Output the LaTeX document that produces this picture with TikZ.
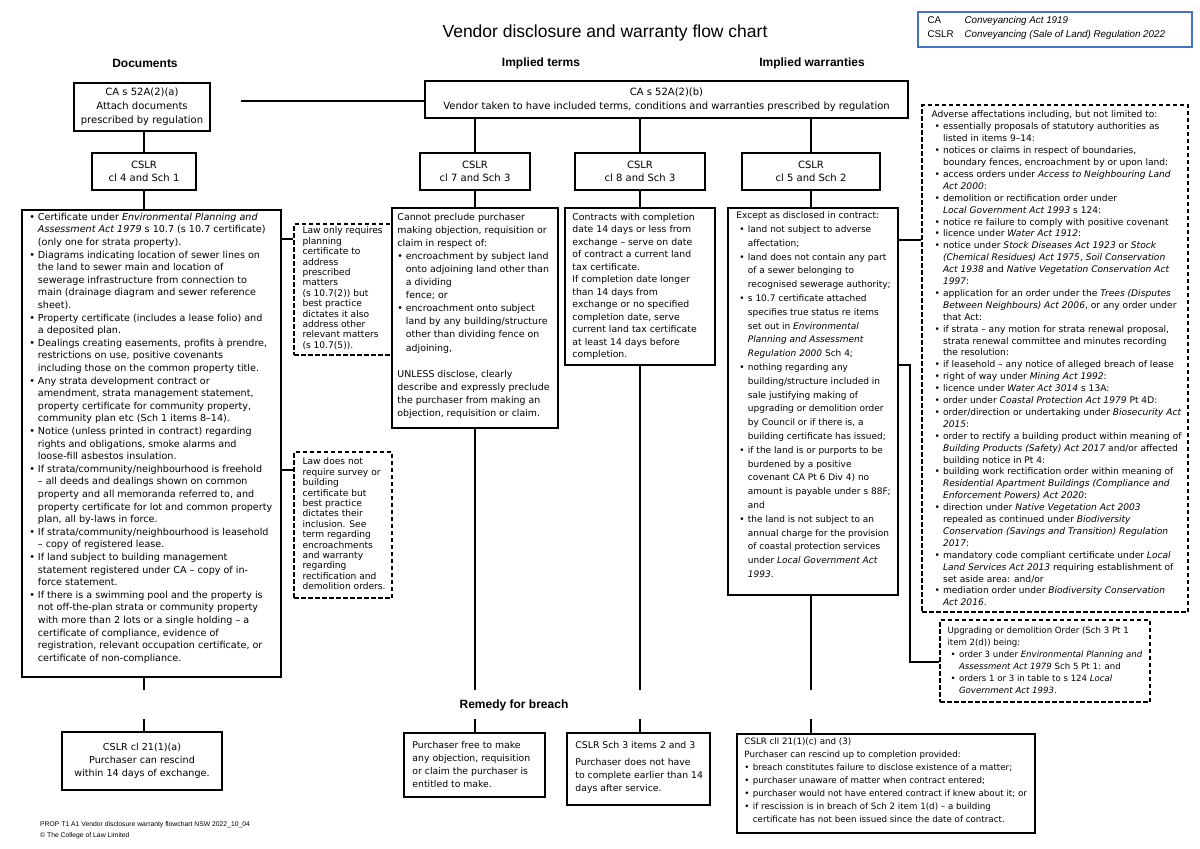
\documentclass[tikz,border=0pt]{standalone}
\usepackage{fontspec}
\setmainfont{DejaVu Sans}
\newfontfamily\arial{Liberation Sans}
\usepackage{tikz}
\usetikzlibrary{positioning}
\definecolor{legendblue}{RGB}{68,114,196}
\newcommand{\blt}{\makebox[8.5pt][l]{\textbullet}}
\newcommand{\bind}{\makebox[8.5pt]{}}
\newcommand{\bpad}{\makebox[3pt]{}}

\begin{document}
\begin{tikzpicture}[x=1pt, y=-1pt,
    box/.style={rectangle, draw, line width=1.5pt, inner sep=0pt, align=center},
    dbox/.style={rectangle, draw, line width=1.4pt, dash pattern=on 4.5pt off 2.5pt, inner sep=0pt},
    txt/.style={anchor=north west, align=left, inner sep=0pt},
    link/.style={line width=1.5pt},
    head/.style={font=\arial\bfseries\fontsize{12}{14}\selectfont}]
    \useasboundingbox (0,0) rectangle (1200,849);
    \fill[white] (0,0) rectangle (1200,849);

    \node (title) [font=\arial\fontsize{17.5}{20}\selectfont] at (605,33) {Vendor disclosure and warranty flow chart};
    \node (legend) [rectangle, draw=legendblue, line width=1.3pt, minimum width=274pt, minimum height=35pt] at (1055,29.5) {};
    \node (legendtxt) [txt, font=\arial\fontsize{9.8}{14}\selectfont, below right=5pt and 10pt of legend.north west]
        {\makebox[37pt][l]{CA}\textit{Conveyancing Act 1919}\\
         \makebox[37pt][l]{CSLR}\textit{Conveyancing (Sale of Land) Regulation 2022}};

    \node (hdocs) [head] at (145,63) {Documents};
    \node (hterms) [head] at (541,63) {Implied terms};
    \node (hwarr) [head] at (812,63) {Implied warranties};
    \node (hremedy) [head] at (514,705) {Remedy for breach};

    % top row
    \node (attach) [box, minimum width=136pt, minimum height=48pt, font=\fontsize{10}{14}\selectfont] at (142,107)
        {CA s 52A(2)(a)\\Attach documents\\prescribed by regulation};
    \node (implied) [box, minimum width=483pt, minimum height=37pt, font=\fontsize{10}{14}\selectfont] at (666.5,99.5)
        {CA s 52A(2)(b)\\Vendor taken to have included terms, conditions and warranties prescribed by regulation};
    \node (cl4) [box, minimum width=104pt, minimum height=37pt, font=\fontsize{10}{13.5}\selectfont] at (144,171.5) {CSLR\\cl 4 and Sch 1};
    \node (cl7) [box, minimum width=110pt, minimum height=37pt, font=\fontsize{10}{13.5}\selectfont] at (475,171.5) {CSLR\\cl 7 and Sch 3};
    \node (cl8) [box, minimum width=130pt, minimum height=37pt, font=\fontsize{10}{13.5}\selectfont] at (640,171.5) {CSLR\\cl 8 and Sch 3};
    \node (cl5) [box, minimum width=138pt, minimum height=37pt, font=\fontsize{10}{13.5}\selectfont] at (811,171.5) {CSLR\\cl 5 and Sch 2};

    % documents
    \node (doclist) [box, minimum width=259pt, minimum height=467pt] at (151.5,443.5) {};
    \node (doclisttxt) [txt, font=\fontsize{9.6}{12.6}\selectfont, below right=3.5pt and 8pt of doclist.north west]
        {\blt Certificate under \textit{Environmental Planning and}\\
         \bind \textit{Assessment Act 1979} s 10.7 (s 10.7 certificate)\\
         \bind (only one for strata property).\\
         \blt Diagrams indicating location of sewer lines on\\
         \bind the land to sewer main and location of\\
         \bind sewerage infrastructure from connection to\\
         \bind main (drainage diagram and sewer reference\\
         \bind sheet).\\
         \blt Property certificate (includes a lease folio) and\\
         \bind a deposited plan.\\
         \blt Dealings creating easements, profits à prendre,\\
         \bind restrictions on use, positive covenants\\
         \bind including those on the common property title.\\
         \blt Any strata development contract or\\
         \bind amendment, strata management statement,\\
         \bind property certificate for community property,\\
         \bind community plan etc (Sch 1 items 8–14).\\
         \blt Notice (unless printed in contract) regarding\\
         \bind rights and obligations, smoke alarms and\\
         \bind loose-fill asbestos insulation.\\
         \blt If strata/community/neighbourhood is freehold\\
         \bind – all deeds and dealings shown on common\\
         \bind property and all memoranda referred to, and\\
         \bind property certificate for lot and common property\\
         \bind plan, all by-laws in force.\\
         \blt If strata/community/neighbourhood is leasehold\\
         \bind – copy of registered lease.\\
         \blt If land subject to building management\\
         \bind statement registered under CA – copy of in-\\
         \bind force statement.\\
         \blt If there is a swimming pool and the property is\\
         \bind not off-the-plan strata or community property\\
         \bind with more than 2 lots or a single holding – a\\
         \bind certificate of compliance, evidence of\\
         \bind registration, relevant occupation certificate, or\\
         \bind certificate of non-compliance.};

    \node (law1) [dbox, minimum width=98pt, minimum height=131pt] at (343,289.5) {};
    \node (law1txt) [txt, font=\fontsize{9.1}{10.4}\selectfont, below right=3.5pt and 9pt of law1.north west]
        {Law only requires\\planning\\certificate to\\address\\prescribed\\matters\\(s 10.7(2)) but\\best practice\\dictates it also\\address other\\relevant matters\\(s 10.7(5)).};
    \node (law2) [dbox, minimum width=98pt, minimum height=146pt] at (343,525) {};
    \node (law2txt) [txt, font=\fontsize{9.1}{10.4}\selectfont, below right=6.5pt and 9pt of law2.north west]
        {Law does not\\require survey or\\building\\certificate but\\best practice\\dictates their\\inclusion. See\\term regarding\\encroachments\\and warranty\\regarding\\rectification and\\demolition orders.};

    % implied terms
    \node (precl) [box, minimum width=166pt, minimum height=220pt] at (475,318) {};
    \node (precltxt) [txt, font=\fontsize{9.4}{13.1}\selectfont, below right=5.5pt and 6pt of precl.north west]
        {Cannot preclude purchaser\\
         making objection, requisition or\\
         claim in respect of:\\
         \blt encroachment by subject land\\
         \bind onto adjoining land other than\\
         \bind a dividing\\
         \bind fence; or\\
         \blt encroachment onto subject\\
         \bind land by any building/structure\\
         \bind other than dividing fence on\\
         \bind adjoining,\\[13pt]
         UNLESS disclose, clearly\\
         describe and expressly preclude\\
         the purchaser from making an\\
         objection, requisition or claim.};
    \node (landtax) [box, minimum width=150pt, minimum height=157pt] at (640,286.5) {};
    \node (landtaxtxt) [txt, font=\fontsize{9.3}{12.5}\selectfont, below right=5.5pt and 8pt of landtax.north west]
        {Contracts with completion\\
         date 14 days or less from\\
         exchange – serve on date\\
         of contract a current land\\
         tax certificate.\\
         If completion date longer\\
         than 14 days from\\
         exchange or no specified\\
         completion date, serve\\
         current land tax certificate\\
         at least 14 days before\\
         completion.};

    % implied warranties
    \node (except) [box, minimum width=170pt, minimum height=387pt] at (813,401.5) {};
    \node (excepttxt) [txt, font=\fontsize{9}{13.8}\selectfont, below right=4.5pt and 9pt of except.north west]
        {Except as disclosed in contract:\\
         \bpad\blt land not subject to adverse\\
         \bpad\bind affectation;\\
         \bpad\blt land does not contain any part\\
         \bpad\bind of a sewer belonging to\\
         \bpad\bind recognised sewerage authority;\\
         \bpad\blt s 10.7 certificate attached\\
         \bpad\bind specifies true status re items\\
         \bpad\bind set out in \textit{Environmental}\\
         \bpad\bind \textit{Planning and Assessment}\\
         \bpad\bind \textit{Regulation 2000} Sch 4;\\
         \bpad\blt nothing regarding any\\
         \bpad\bind building/structure included in\\
         \bpad\bind sale justifying making of\\
         \bpad\bind upgrading or demolition order\\
         \bpad\bind by Council or if there is, a\\
         \bpad\bind building certificate has issued;\\
         \bpad\blt if the land is or purports to be\\
         \bpad\bind burdened by a positive\\
         \bpad\bind covenant CA Pt 6 Div 4) no\\
         \bpad\bind amount is payable under s 88F;\\
         \bpad\bind and\\
         \bpad\blt the land is not subject to an\\
         \bpad\bind annual charge for the provision\\
         \bpad\bind of coastal protection services\\
         \bpad\bind under \textit{Local Government Act}\\
         \bpad\bind \textit{1993}.};

    \node (adverse) [dbox, minimum width=266pt, minimum height=507pt] at (1055,358.5) {};
    \node (adversetxt) [txt, font=\fontsize{9.1}{11.9}\selectfont, below right=6.5pt and 10pt of adverse.north west]
        {Adverse affectations including, but not limited to:\\
         \bpad\blt essentially proposals of statutory authorities as\\
         \bpad\bind listed in items 9–14:\\
         \bpad\blt notices or claims in respect of boundaries,\\
         \bpad\bind boundary fences, encroachment by or upon land:\\
         \bpad\blt access orders under \textit{Access to Neighbouring Land}\\
         \bpad\bind \textit{Act 2000}:\\
         \bpad\blt demolition or rectification order under\\
         \bpad\bind \textit{Local Government Act 1993} s 124:\\
         \bpad\blt notice re failure to comply with positive covenant\\
         \bpad\blt licence under \textit{Water Act 1912}:\\
         \bpad\blt notice under \textit{Stock Diseases Act 1923} or \textit{Stock}\\
         \bpad\bind \textit{(Chemical Residues) Act 1975}, \textit{Soil Conservation}\\
         \bpad\bind \textit{Act 1938} and \textit{Native Vegetation Conservation Act}\\
         \bpad\bind \textit{1997}:\\
         \bpad\blt application for an order under the \textit{Trees (Disputes}\\
         \bpad\bind \textit{Between Neighbours) Act 2006}, or any order under\\
         \bpad\bind that Act:\\
         \bpad\blt if strata – any motion for strata renewal proposal,\\
         \bpad\bind strata renewal committee and minutes recording\\
         \bpad\bind the resolution:\\
         \bpad\blt if leasehold – any notice of alleged breach of lease\\
         \bpad\blt right of way under \textit{Mining Act 1992}:\\
         \bpad\blt licence under \textit{Water Act 3014} s 13A:\\
         \bpad\blt order under \textit{Coastal Protection Act 1979} Pt 4D:\\
         \bpad\blt order/direction or undertaking under \textit{Biosecurity Act}\\
         \bpad\bind \textit{2015}:\\
         \bpad\blt order to rectify a building product within meaning of\\
         \bpad\bind \textit{Building Products (Safety) Act 2017} and/or affected\\
         \bpad\bind building notice in Pt 4:\\
         \bpad\blt building work rectification order within meaning of\\
         \bpad\bind \textit{Residential Apartment Buildings (Compliance and}\\
         \bpad\bind \textit{Enforcement Powers) Act 2020}:\\
         \bpad\blt direction under \textit{Native Vegetation Act 2003}\\
         \bpad\bind repealed as continued under \textit{Biodiversity}\\
         \bpad\bind \textit{Conservation (Savings and Transition) Regulation}\\
         \bpad\bind \textit{2017}:\\
         \bpad\blt mandatory code compliant certificate under \textit{Local}\\
         \bpad\bind \textit{Land Services Act 2013} requiring establishment of\\
         \bpad\bind set aside area: and/or\\
         \bpad\blt mediation order under \textit{Biodiversity Conservation}\\
         \bpad\bind \textit{Act 2016}.};
    \node (upgrade) [dbox, minimum width=210pt, minimum height=82pt] at (1045,661) {};
    \node (upgradetxt) [txt, font=\fontsize{8.6}{11.9}\selectfont, below right=7.5pt and 8pt of upgrade.north west]
        {Upgrading or demolition Order (Sch 3 Pt 1\\
         item 2(d)) being:\\
         \bpad\blt order 3 under \textit{Environmental Planning and}\\
         \bpad\bind \textit{Assessment Act 1979} Sch 5 Pt 1: and\\
         \bpad\blt orders 1 or 3 in table to s 124 \textit{Local}\\
         \bpad\bind \textit{Government Act 1993}.};

    % remedy for breach
    \node (rescind) [box, minimum width=160pt, minimum height=58pt, font=\fontsize{9.6}{13}\selectfont] at (142,761)
        {CSLR cl 21(1)(a)\\Purchaser can rescind\\within 14 days of exchange.};
    \node (free) [box, minimum width=141pt, minimum height=64pt] at (474.5,765) {};
    \node (freetxt) [txt, font=\fontsize{9.3}{13}\selectfont, below right=8.5pt and 9pt of free.north west]
        {Purchaser free to make\\any objection, requisition\\or claim the purchaser is\\entitled to make.};
    \node (sch3) [box, minimum width=143pt, minimum height=72pt] at (638.5,769) {};
    \node (sch3txt) [txt, font=\fontsize{9.3}{13}\selectfont, below right=8.5pt and 9pt of sch3.north west]
        {CSLR Sch 3 items 2 and 3\\[4pt]Purchaser does not have\\to complete earlier than 14\\days after service.};
    \node (cll21) [box, minimum width=298pt, minimum height=99pt] at (886,783.5) {};
    \node (cll21txt) [txt, font=\fontsize{8.7}{13}\selectfont, below right=4pt and 8pt of cll21.north west]
        {CSLR cll 21(1)(c) and (3)\\
         Purchaser can rescind up to completion provided:\\
         \blt breach constitutes failure to disclose existence of a matter;\\
         \blt purchaser unaware of matter when contract entered;\\
         \blt purchaser would not have entered contract if knew about it; or\\
         \blt if rescission is in breach of Sch 2 item 1(d) – a building\\
         \bind certificate has not been issued since the date of contract.};

    \node (footer) [txt, font=\arial\fontsize{6.8}{11}\selectfont] at (40,821)
        {PROP T1 A1 Vendor disclosure warranty flowchart NSW 2022\_10\_04\\© The College of Law Limited};

    % connectors
    \coordinate (linkstart) at (241,101);
    \coordinate (gaptop) at (0,690);
    \coordinate (gapbot) at (0,719);
    \draw [link] (linkstart) -- (implied.west |- linkstart);
    \draw [link] (cl4.north |- attach.south) -- (cl4.north);
    \foreach \n in {cl7,cl8,cl5}
        \draw [link] (\n.north |- implied.south) -- (\n.north);
    \draw [link] (cl4.south) -- (cl4.south |- doclist.north);
    \draw [link] (cl7.south) -- (cl7.south |- precl.north);
    \draw [link] (cl8.south) -- (cl8.south |- landtax.north);
    \draw [link] (cl5.south) -- (cl5.south |- except.north);
    \draw [link] (doclist.east |- 0,239) -- (law1.west |- 0,239);
    \draw [link] (doclist.east |- 0,470) -- (law2.west |- 0,470);
    \draw [link] (except.east |- 0,240) -- (adverse.west |- 0,240);
    \draw [link] (except.east |- 0,365) -- (910,365) |- (upgrade.west |- 0,662);
    \foreach \c/\a/\b in {cl4/doclist/rescind, cl7/precl/free, cl8/landtax/sch3, cl5/except/cll21} {
        \draw [link] (\c.south |- \a.south) -- (\c.south |- gaptop);
        \draw [link] (\c.south |- gapbot) -- (\c.south |- \b.north);
    }
\end{tikzpicture}
\end{document}
